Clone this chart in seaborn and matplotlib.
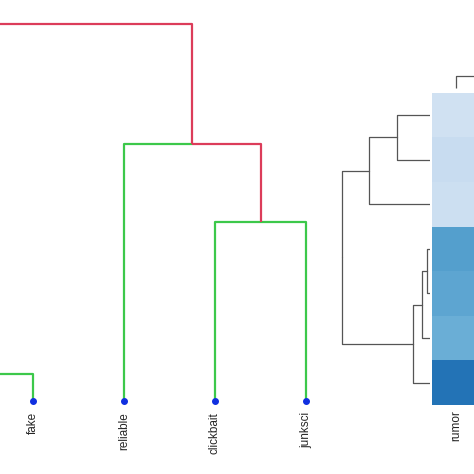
import matplotlib
matplotlib.use("Agg")
import matplotlib.pyplot as plt
import seaborn as sns
import numpy as np
import pandas as pd

# left dendrogram: leaves and merges (left id, right id, height)
leaf_names = ["", "fake", "reliable", "clickbait", "junksci"]
left_merges = [(0, 1, 0.30), (3, 4, 1.97), (2, 6, 2.83), (5, 7, 4.15)]
# (left half colour, right half colour) of each link
left_colors = [("#3cc84a", "#3cc84a"), ("#3cc84a", "#3cc84a"),
               ("#3cc84a", "#dc3c5a"), ("#dc3c5a", "#dc3c5a")]

# heatmap column and its row dendrogram (distances in px-like units)
heat_rows = ["r1", "r2", "r3", "r4", "r5", "r6", "r7"]
heat_vals = [0.20, 0.24, 0.22, 0.57, 0.54, 0.50, 0.74]
row_merges = [(0, 1, 33), (7, 2, 61), (3, 4, 3), (9, 5, 8), (10, 6, 17), (8, 11, 88)]
col_names = ["rumor", ""]
col_merges = [(0, 1, 14)]

W = 474.0


def fig_ax(fig, x0, y0, x1, y1):
    return fig.add_axes([x0 / W, 1 - y1 / W, (x1 - x0) / W, (y1 - y0) / W])


def dendro(ax, n, merges, colors, orient="top", base=0.0):
    pos = {i: i + 0.5 if orient != "top" else float(i) for i in range(n)}
    hgt = {i: base for i in range(n)}
    for k, (a, b, h) in enumerate(merges):
        mid = (pos[a] + pos[b]) / 2
        halves = [([pos[a], pos[a], mid], [hgt[a], h, h]),
                  ([mid, pos[b], pos[b]], [h, h, hgt[b]])]
        for (xs, ys), c in zip(halves, colors[k]):
            if orient == "left":
                ax.plot(ys, xs, color=c, lw=0.9)
            else:
                ax.plot(xs, ys, color=c, lw=1.6 if orient == "top" else 0.9,
                        clip_on=orient != "top", solid_capstyle="butt")
        pos[n + k] = mid
        hgt[n + k] = h


fig = plt.figure(figsize=(4.74, 4.74), dpi=100)
sns.set_style("white")
grey = ("#555555", "#555555")

# left dendrogram
ax1 = fig_ax(fig, 0, 0, 330, 401)
dendro(ax1, len(leaf_names), left_merges, left_colors, "top")
ax1.scatter(range(len(leaf_names)), [0] * len(leaf_names), color="#1030e0", s=16,
            zorder=3, clip_on=False)
ax1.set_xlim(1 - 33 / 91, 1 + 297 / 91)
ax1.set_ylim(0, 401 / 90.85)
for i, name in enumerate(leaf_names):
    if name:
        ax1.text(i, -0.12, name, rotation=90, ha="center", va="top", fontsize=8.5,
                 family="Liberation Sans")
ax1.axis("off")

# heatmap column
ax2 = fig_ax(fig, 432, 92.7, 528, 405)
df = pd.DataFrame({"rumor": heat_vals, "x": heat_vals}, index=heat_rows)
sns.heatmap(df, ax=ax2, cmap="Blues", vmin=0, vmax=1, cbar=False,
            xticklabels=col_names, yticklabels=False)
ax2.tick_params(length=0)
plt.setp(ax2.get_xticklabels(), rotation=90, fontsize=8.5, family="Liberation Sans")

# row dendrogram
ax3 = fig_ax(fig, 335, 92.7, 430, 405)
dendro(ax3, len(heat_rows), row_merges, [grey] * len(row_merges), "left")
ax3.set_xlim(95, 0)
ax3.set_ylim(len(heat_rows), 0)
ax3.axis("off")

# column dendrogram
ax4 = fig_ax(fig, 432, 70, 528, 90)
dendro(ax4, 2, col_merges, [grey], "col", base=2)
ax4.set_xlim(0, 2)
ax4.set_ylim(0, 20)
ax4.axis("off")

fig.savefig("out.png", dpi=100)
